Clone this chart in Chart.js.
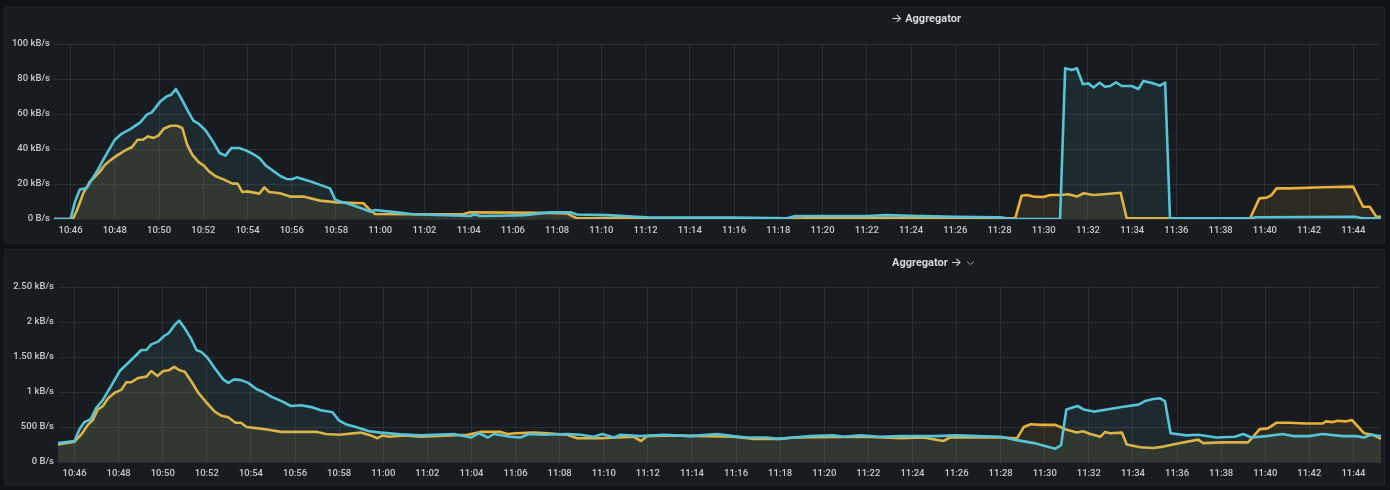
<!DOCTYPE html>
<html>
<head>
<meta charset="utf-8">
<script src="https://cdn.jsdelivr.net/npm/chart.js@4/dist/chart.umd.min.js"></script>
<style>
html,body{margin:0;padding:0;background:#111217;width:1390px;height:490px;overflow:hidden;font-family:Roboto,Inter,sans-serif;}
.panel{position:absolute;left:4px;width:1381px;height:237px;box-sizing:border-box;background:#181b1f;border:1px solid #202327;border-radius:2px;}
#p1{top:7px}
#p2{top:249px}
.panel canvas{position:absolute;left:0;top:0}
.title{position:absolute;font-size:11px;font-weight:700;color:#d8d9da;white-space:nowrap;line-height:14px;font-family:Roboto,sans-serif;}
.arr{font-family:Inter,sans-serif;font-weight:500;font-size:12px}
</style>
</head>
<body>
<div class="panel" id="p1"><canvas id="c1" width="1379" height="235"></canvas></div>
<div class="panel" id="p2"><canvas id="c2" width="1379" height="235"></canvas></div>
<div class="title" style="left:891px;top:11px"><span class="arr">→</span> Aggregator</div>
<div class="title" style="left:892px;top:255px">Aggregator <span class="arr">→</span> <svg width="9" height="6" viewBox="0 0 9 6" style="vertical-align:middle;margin-left:1px"><path d="M1 1.5 L4.5 4.5 L8 1.5" stroke="#9fa1a7" stroke-width="1" fill="none"/></svg></div>
<script>
// Time values are minutes after 10:00 (e.g. 46.5 = 10:46:30)
const xTickLabels = ['10:46','10:48','10:50','10:52','10:54','10:56','10:58','11:00','11:02','11:04','11:06','11:08','11:10','11:12','11:14','11:16','11:18','11:20','11:22','11:24','11:26','11:28','11:30','11:32','11:34','11:36','11:38','11:40','11:42','11:44'];
const topYTickLabels = ['0 B/s','20 kB/s','40 kB/s','60 kB/s','80 kB/s','100 kB/s'];
const bottomYTickLabels = ['0 B/s','500 B/s','1 kB/s','1.50 kB/s','2 kB/s','2.50 kB/s'];

// Top panel "→ Aggregator" (kB/s)
const topBlueT = [45.25,46.0,46.2,46.42,46.73,47.0,47.25,47.48,48.0,48.32,48.7,49.15,49.45,49.68,50.06,50.36,50.55,50.76,51.0,51.27,51.55,51.8,52.1,52.48,52.74,53.0,53.27,53.62,53.92,54.23,54.53,54.83,55.5,55.77,56.0,56.23,57.0,57.73,57.96,58.11,58.64,59.24,59.54,59.77,60.75,61.5,62.56,63.77,64.07,64.25,64.5,65.4,66.5,67.69,68.6,68.9,70.25,72.2,75.97,78.4,78.76,82.0,82.9,84.0,86.0,88.0,88.48,90.74,90.97,91.27,91.5,91.77,92.02,92.25,92.52,92.77,93.0,93.27,93.53,93.98,94.28,94.51,94.96,95.26,95.49,95.71,99.33,99.63,104.1,104.4,105.25];
const topBlueV = [0,0,10,16.8,17.7,23.4,28.5,33.9,45.3,48.8,51.4,55.2,59.6,61.1,67.2,70.1,71,74.3,69.1,62.5,56.2,54.3,50.7,43.4,37.7,36.2,40.6,40.6,39.2,37.3,34.9,30.5,24.4,22.9,22.7,23.8,20.8,17.5,11.2,10.3,8.4,5.7,4.2,5.1,3.8,2.7,2.3,1.9,1.7,2.7,1.7,1.9,2.2,3.8,3.8,2.6,2.2,0.9,0.8,0.4,1.7,1.7,2.2,1.8,1.3,1.0,0,0,86.1,85.1,86.1,77,77.5,75.2,77.9,75.6,76,78.1,76,76,74.3,78.9,77.5,76.2,77.9,0.4,0.4,1.0,1.3,0.4,0.4];
const topYellowT = [45.25,46.1,46.27,46.58,46.88,47.1,47.33,47.56,47.79,48.09,48.47,48.77,49.03,49.27,49.5,49.76,49.98,50.21,50.52,50.82,51.05,51.27,51.5,51.8,52.03,52.26,52.56,52.94,53.32,53.55,53.77,54.0,54.53,54.76,54.98,55.47,55.92,56.53,57.28,58.04,58.64,59.24,59.54,59.77,61.5,63.77,64.07,67.23,68.44,68.9,72.0,73.5,79.0,79.3,83.0,86.0,88.0,88.33,88.71,89.0,89.23,89.54,89.99,90.29,90.74,91.12,91.5,91.8,92.25,92.7,93.23,93.48,93.75,99.33,99.75,100.08,100.3,100.53,101.13,102.64,103.99,104.44,104.74,105.04,105.25];
const topYellowV = [0,0,4.4,14.9,21.5,24,27.2,31,33.5,36.2,39.2,41,45.3,45.3,47.2,46.3,47.8,51.6,53.3,53.3,52,42.5,36.8,32.4,30.5,27.2,24.4,22.5,20.2,20.2,15.4,15.8,14.5,18.1,15.4,14.7,12.8,12.8,10.5,9.5,9.3,9.0,5.1,2.9,2.7,2.9,3.8,3.6,3.2,0.4,0.4,0.2,0.2,0.6,0.6,0.4,0.8,0.4,0.4,13.3,13.7,12.8,12.6,13.7,13.7,14.1,12.8,14.7,13.7,14.1,14.7,15.0,0.4,0.4,11.8,12.2,13.7,17.5,17.5,18.1,18.5,7.0,7.0,1.3,1.3];

// Bottom panel "Aggregator →" (B/s)
const bottomBlueT = [45.25,46.0,46.23,46.45,46.73,46.98,47.29,47.67,48.05,48.58,49.03,49.26,49.48,49.79,50.06,50.27,50.55,50.74,51.0,51.27,51.53,51.76,52.03,52.36,52.74,52.97,53.24,53.55,53.88,54.26,54.56,54.94,55.39,55.81,56.27,56.8,57.17,57.7,58.0,58.3,58.76,59.36,59.89,60.8,61.7,63.21,63.97,64.34,64.75,65.02,65.76,66.23,66.6,67.29,68.35,68.95,69.55,69.93,70.46,70.76,71.67,72.72,73.93,75.14,75.89,76.5,77.4,77.86,78.61,79.37,80.42,80.87,81.63,82.53,83.44,84.0,85.0,86.0,87.0,88.0,88.6,89.51,90.48,90.74,90.98,91.49,91.77,92.22,92.82,93.57,94.25,94.55,94.93,95.23,95.45,95.71,96.43,96.96,97.79,98.62,99.0,99.37,100.05,100.8,101.25,102.0,102.6,103.51,104.11,104.49,104.79,105.25];
const bottomBlueV = [270,300,470,570,610,770,890,1090,1300,1460,1600,1600,1680,1720,1800,1840,1960,2020,1910,1770,1600,1570,1490,1340,1180,1130,1180,1170,1130,1040,1000,930,870,800,810,780,740,710,590,540,500,440,420,395,380,400,350,410,350,400,360,350,400,390,400,390,360,400,350,390,370,390,370,400,370,350,350,330,350,370,380,360,380,360,370,370,370,380,370,360,320,270,190,240,750,800,750,720,750,790,820,870,900,910,870,410,380,390,350,360,400,350,370,400,370,370,400,370,370,350,390,370];
const bottomYellowT = [45.25,46.0,46.3,46.6,46.83,47.06,47.29,47.52,47.82,48.12,48.35,48.58,48.88,49.26,49.48,49.76,50.02,50.27,50.52,50.77,51.0,51.3,51.61,51.98,52.36,52.67,52.97,53.3,53.55,53.8,54.33,54.79,55.39,56.0,57.02,57.39,58.0,58.98,59.44,59.74,59.97,60.27,60.95,61.7,63.82,64.42,65.33,65.63,66.0,66.83,67.44,68.35,68.8,69.86,71.36,71.7,71.97,72.87,75.89,76.8,78.0,78.6,81.93,83.44,84.5,85.4,85.7,88.0,88.75,89.05,89.36,89.81,90.48,91.0,91.46,91.73,92.07,92.52,92.74,92.97,93.5,93.72,94.33,94.93,95.38,95.98,96.96,97.19,98.09,99.22,99.75,100.12,100.5,101.1,101.86,102.6,102.76,103.06,103.29,103.66,103.93,104.49,104.86,105.25];
const bottomYellowV = [250,290,390,530,600,750,800,910,990,1030,1140,1140,1200,1220,1300,1230,1300,1310,1360,1310,1290,1150,990,850,720,660,640,560,560,500,480,460,430,430,430,400,390,420,380,340,380,360,380,360,390,430,430,400,410,420,410,390,340,340,360,300,370,380,360,330,330,350,360,340,350,300,350,350,340,500,540,530,530,460,420,440,400,360,430,410,420,250,210,200,220,260,320,270,280,280,470,480,560,560,550,550,580,570,590,580,600,410,390,330];

const BLUE = '#57C3D6', YELLOW = '#E8B13B';
const GRID = 'rgba(204,204,220,0.11)';
const TICK = '#c8c9ce';
const FONT = {family:'Roboto', size:9.5, weight:'500'};

function toMin(label){ const [h,m] = label.split(':').map(Number); return (h-10)*60 + m; }
const xTickValues = xTickLabels.map(toMin);

function pts(t, v){ return t.map((x,i)=>({x:x, y:v[i]})); }

function makeChart(id, blueT, blueV, yellowT, yellowV, yMax, yStep, yLabels, leftW, padTop, xH){
  return new Chart(document.getElementById(id), {
    type:'line',
    data:{datasets:[
      {data:pts(blueT,blueV), borderColor:BLUE, backgroundColor:'rgba(87,195,214,0.09)', fill:'origin', borderWidth:2.6, pointRadius:0, tension:0, borderJoinStyle:'round'},
      {data:pts(yellowT,yellowV), borderColor:YELLOW, backgroundColor:'rgba(232,177,59,0.10)', fill:'origin', borderWidth:2.6, pointRadius:0, tension:0, borderJoinStyle:'round'}
    ]},
    options:{
      responsive:false, animation:false, events:[],
      layout:{padding:{left:0,right:3,top:padTop,bottom:0}},
      plugins:{legend:{display:false}, tooltip:{enabled:false}, title:{display:false}},
      scales:{
        x:{type:'linear', min:45.25, max:105.25,
           grid:{color:GRID, drawTicks:false, lineWidth:1},
           border:{display:false},
           afterBuildTicks:(s)=>{ s.ticks = xTickValues.map(v=>({value:v})); },
           ticks:{autoSkip:false, maxRotation:0, padding:6, color:TICK, font:FONT,
                  callback:(v)=>{ const i = xTickValues.indexOf(v); return i>=0 ? xTickLabels[i] : ''; }},
           afterFit:(s)=>{s.height=xH;}},
        y:{min:0, max:yMax,
           grid:{color:GRID, drawTicks:false, lineWidth:1},
           border:{display:false},
           ticks:{stepSize:yStep, padding:4, color:TICK, font:FONT,
                  callback:(v)=>{const i=Math.round(v/yStep); return yLabels[i] ?? '';}},
           afterFit:(s)=>{s.width=leftW;}}
      }
    }
  });
}

makeChart('c1', topBlueT, topBlueV, topYellowT, topYellowV, 100, 20, topYTickLabels, 49, 36, 24);
makeChart('c2', bottomBlueT, bottomBlueV, bottomYellowT, bottomYellowV, 2500, 500, bottomYTickLabels, 53, 37, 23);
</script>
</body>
</html>
